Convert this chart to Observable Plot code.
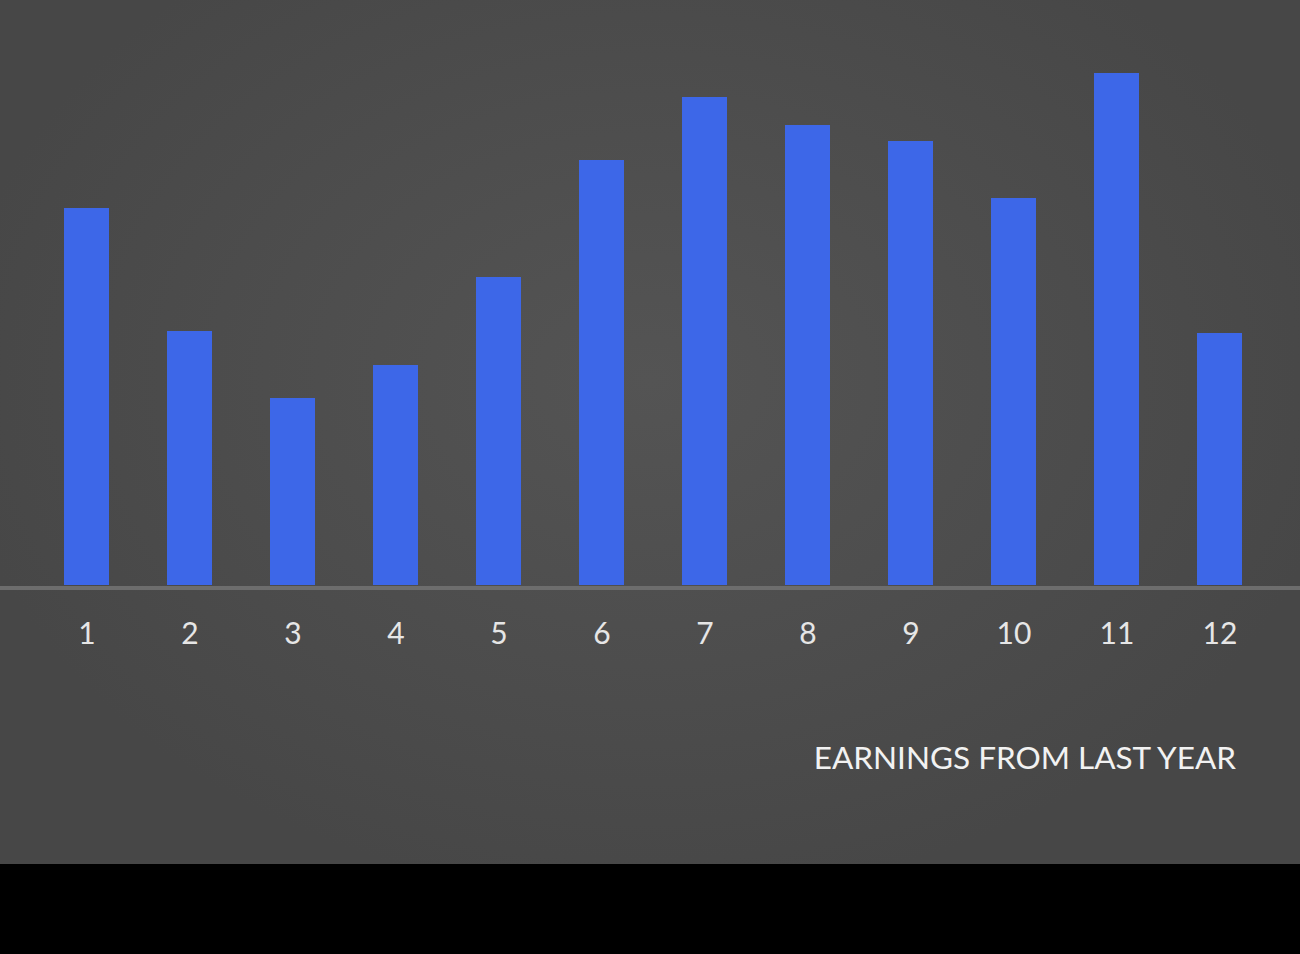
<!DOCTYPE html>
<html>
<head>
<meta charset="utf-8">
<script src="https://cdn.jsdelivr.net/npm/d3@7"></script>
<script src="https://cdn.jsdelivr.net/npm/@observablehq/plot@0.6"></script>
<style>
  html, body { margin: 0; padding: 0; background: #000; }
  #wrap {
    position: relative; width: 1300px; height: 864px;
    background: radial-gradient(ellipse 700px 520px at 650px 380px, #545454 0%, #4d4d4d 55%, #474747 100%);
    overflow: hidden;
  }
  #chart svg { display: block; background: transparent; }
  #title {
    position: absolute; right: 64px; top: 738px;
    font-family: Lato, "Open Sans", sans-serif; font-size: 31.5px; line-height: 38px;
    color: #f2f2f2; white-space: nowrap; letter-spacing: 0px;
  }
  #footer { width: 1300px; height: 90px; background: #000; }
</style>
</head>
<body>
<div id="wrap">
  <div id="chart"></div>
  <div id="title">EARNINGS FROM LAST YEAR</div>
</div>
<div id="footer"></div>
<script>
const months = ["1","2","3","4","5","6","7","8","9","10","11","12"];
const earnings = [75.4, 50.8, 37.4, 44, 61.6, 85, 97.6, 92, 88.8, 77.4, 102.4, 50.4];

const data = months.map((m, i) => ({month: m, value: earnings[i]}));

const chart = Plot.plot({
  width: 1300,
  height: 700,
  marginTop: 35,
  marginBottom: 115,
  marginLeft: 0,
  marginRight: 0,
  style: {background: "transparent"},
  x: {domain: months, paddingInner: 0.56, paddingOuter: 0.28, insetLeft: 33, insetRight: 26, label: null},
  y: {domain: [0, 110], axis: null},
  marks: [
    Plot.barY(data, {x: "month", y: "value", fill: "#3d67e8", insetLeft: 0, insetRight: 0}),
    Plot.ruleY([0], {stroke: "#6d6d6d", strokeWidth: 4, dy: 2.5}),
    Plot.axisX({tickSize: 0, tickPadding: 37, fontSize: 30, fontFamily: "Lato, sans-serif", color: "#e6e6e6", label: null})
  ]
});
document.getElementById("chart").appendChild(chart);
</script>
</body>
</html>
